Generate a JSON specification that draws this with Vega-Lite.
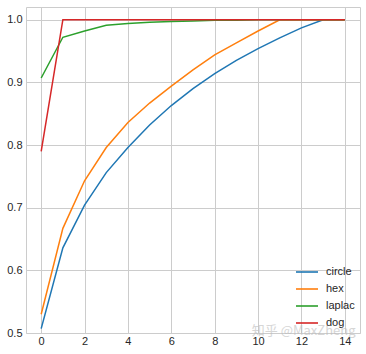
{
  "$schema": "https://vega.github.io/schema/vega-lite/v6.json",
  "width": 334,
  "height": 326,
  "autosize": "none",
  "padding": {"left": 26, "top": 7, "right": 6, "bottom": 21},
  "background": "white",
  "config": {
    "font": "Liberation Sans",
    "view": {"stroke": "#cccccc", "strokeWidth": 1},
    "axis": {"grid": true, "gridColor": "#cccccc", "gridWidth": 1, "domain": false, "ticks": false, "labelColor": "#262626", "labelFontSize": 11, "labelFont": "Liberation Sans", "title": null}
  },
  "datasets": {
    "lines": [
      {"x": 0, "s": "circle", "y": 0.507}, {"x": 1, "s": "circle", "y": 0.636}, {"x": 2, "s": "circle", "y": 0.704}, {"x": 3, "s": "circle", "y": 0.756}, {"x": 4, "s": "circle", "y": 0.796}, {"x": 5, "s": "circle", "y": 0.832}, {"x": 6, "s": "circle", "y": 0.863}, {"x": 7, "s": "circle", "y": 0.89}, {"x": 8, "s": "circle", "y": 0.914}, {"x": 9, "s": "circle", "y": 0.935}, {"x": 10, "s": "circle", "y": 0.954}, {"x": 11, "s": "circle", "y": 0.971}, {"x": 12, "s": "circle", "y": 0.987}, {"x": 13, "s": "circle", "y": 1.0}, {"x": 14, "s": "circle", "y": 1.0},
      {"x": 0, "s": "hex", "y": 0.53}, {"x": 1, "s": "hex", "y": 0.667}, {"x": 2, "s": "hex", "y": 0.743}, {"x": 3, "s": "hex", "y": 0.796}, {"x": 4, "s": "hex", "y": 0.836}, {"x": 5, "s": "hex", "y": 0.867}, {"x": 6, "s": "hex", "y": 0.894}, {"x": 7, "s": "hex", "y": 0.92}, {"x": 8, "s": "hex", "y": 0.944}, {"x": 9, "s": "hex", "y": 0.963}, {"x": 10, "s": "hex", "y": 0.982}, {"x": 11, "s": "hex", "y": 1.0}, {"x": 12, "s": "hex", "y": 1.0}, {"x": 13, "s": "hex", "y": 1.0}, {"x": 14, "s": "hex", "y": 1.0},
      {"x": 0, "s": "laplac", "y": 0.907}, {"x": 1, "s": "laplac", "y": 0.972}, {"x": 2, "s": "laplac", "y": 0.982}, {"x": 3, "s": "laplac", "y": 0.991}, {"x": 4, "s": "laplac", "y": 0.994}, {"x": 5, "s": "laplac", "y": 0.996}, {"x": 6, "s": "laplac", "y": 0.997}, {"x": 7, "s": "laplac", "y": 0.998}, {"x": 8, "s": "laplac", "y": 0.999}, {"x": 9, "s": "laplac", "y": 0.999}, {"x": 10, "s": "laplac", "y": 1.0}, {"x": 11, "s": "laplac", "y": 1.0}, {"x": 12, "s": "laplac", "y": 1.0}, {"x": 13, "s": "laplac", "y": 1.0}, {"x": 14, "s": "laplac", "y": 1.0},
      {"x": 0, "s": "dog", "y": 0.79}, {"x": 1, "s": "dog", "y": 1.0}, {"x": 2, "s": "dog", "y": 1.0}, {"x": 3, "s": "dog", "y": 1.0}, {"x": 4, "s": "dog", "y": 1.0}, {"x": 5, "s": "dog", "y": 1.0}, {"x": 6, "s": "dog", "y": 1.0}, {"x": 7, "s": "dog", "y": 1.0}, {"x": 8, "s": "dog", "y": 1.0}, {"x": 9, "s": "dog", "y": 1.0}, {"x": 10, "s": "dog", "y": 1.0}, {"x": 11, "s": "dog", "y": 1.0}, {"x": 12, "s": "dog", "y": 1.0}, {"x": 13, "s": "dog", "y": 1.0}, {"x": 14, "s": "dog", "y": 1.0}
    ],
    "mark": [{"label": "知乎 @MaxZheng", "x": 12.1, "y": 0.503}]
  },
  "layer": [
    {
      "data": {"name": "lines"},
      "mark": {"type": "line", "strokeWidth": 1.5},
      "encoding": {
        "x": {"field": "x", "type": "quantitative", "scale": {"domain": [-0.7, 14.7], "nice": false, "zero": false}, "axis": {"values": [0, 2, 4, 6, 8, 10, 12, 14], "labelPadding": 2}},
        "y": {"field": "y", "type": "quantitative", "scale": {"domain": [0.5, 1.0203], "nice": false, "zero": false}, "axis": {"values": [0.5, 0.6, 0.7, 0.8, 0.9, 1.0], "format": ".1f", "labelPadding": 4}},
        "color": {"field": "s", "type": "nominal", "scale": {"domain": ["circle", "hex", "laplac", "dog"], "range": ["#1f77b4", "#ff7f0e", "#2ca02c", "#d62728"]},
          "legend": {"title": null, "orient": "bottom-right", "offset": 5, "symbolType": "stroke", "symbolSize": 484, "symbolStrokeWidth": 2, "symbolOpacity": 0.8, "labelFontSize": 11, "labelColor": "#262626", "rowPadding": -8.5, "labelOffset": 7}}
      }
    },
    {
      "data": {"name": "mark"},
      "mark": {"type": "text", "font": "Noto Sans CJK SC", "fontSize": 13, "color": "#bbbbbb", "opacity": 0.6, "align": "center", "baseline": "middle"},
      "encoding": {"x": {"field": "x", "type": "quantitative"}, "y": {"field": "y", "type": "quantitative"}, "text": {"field": "label"}}
    }
  ]
}
